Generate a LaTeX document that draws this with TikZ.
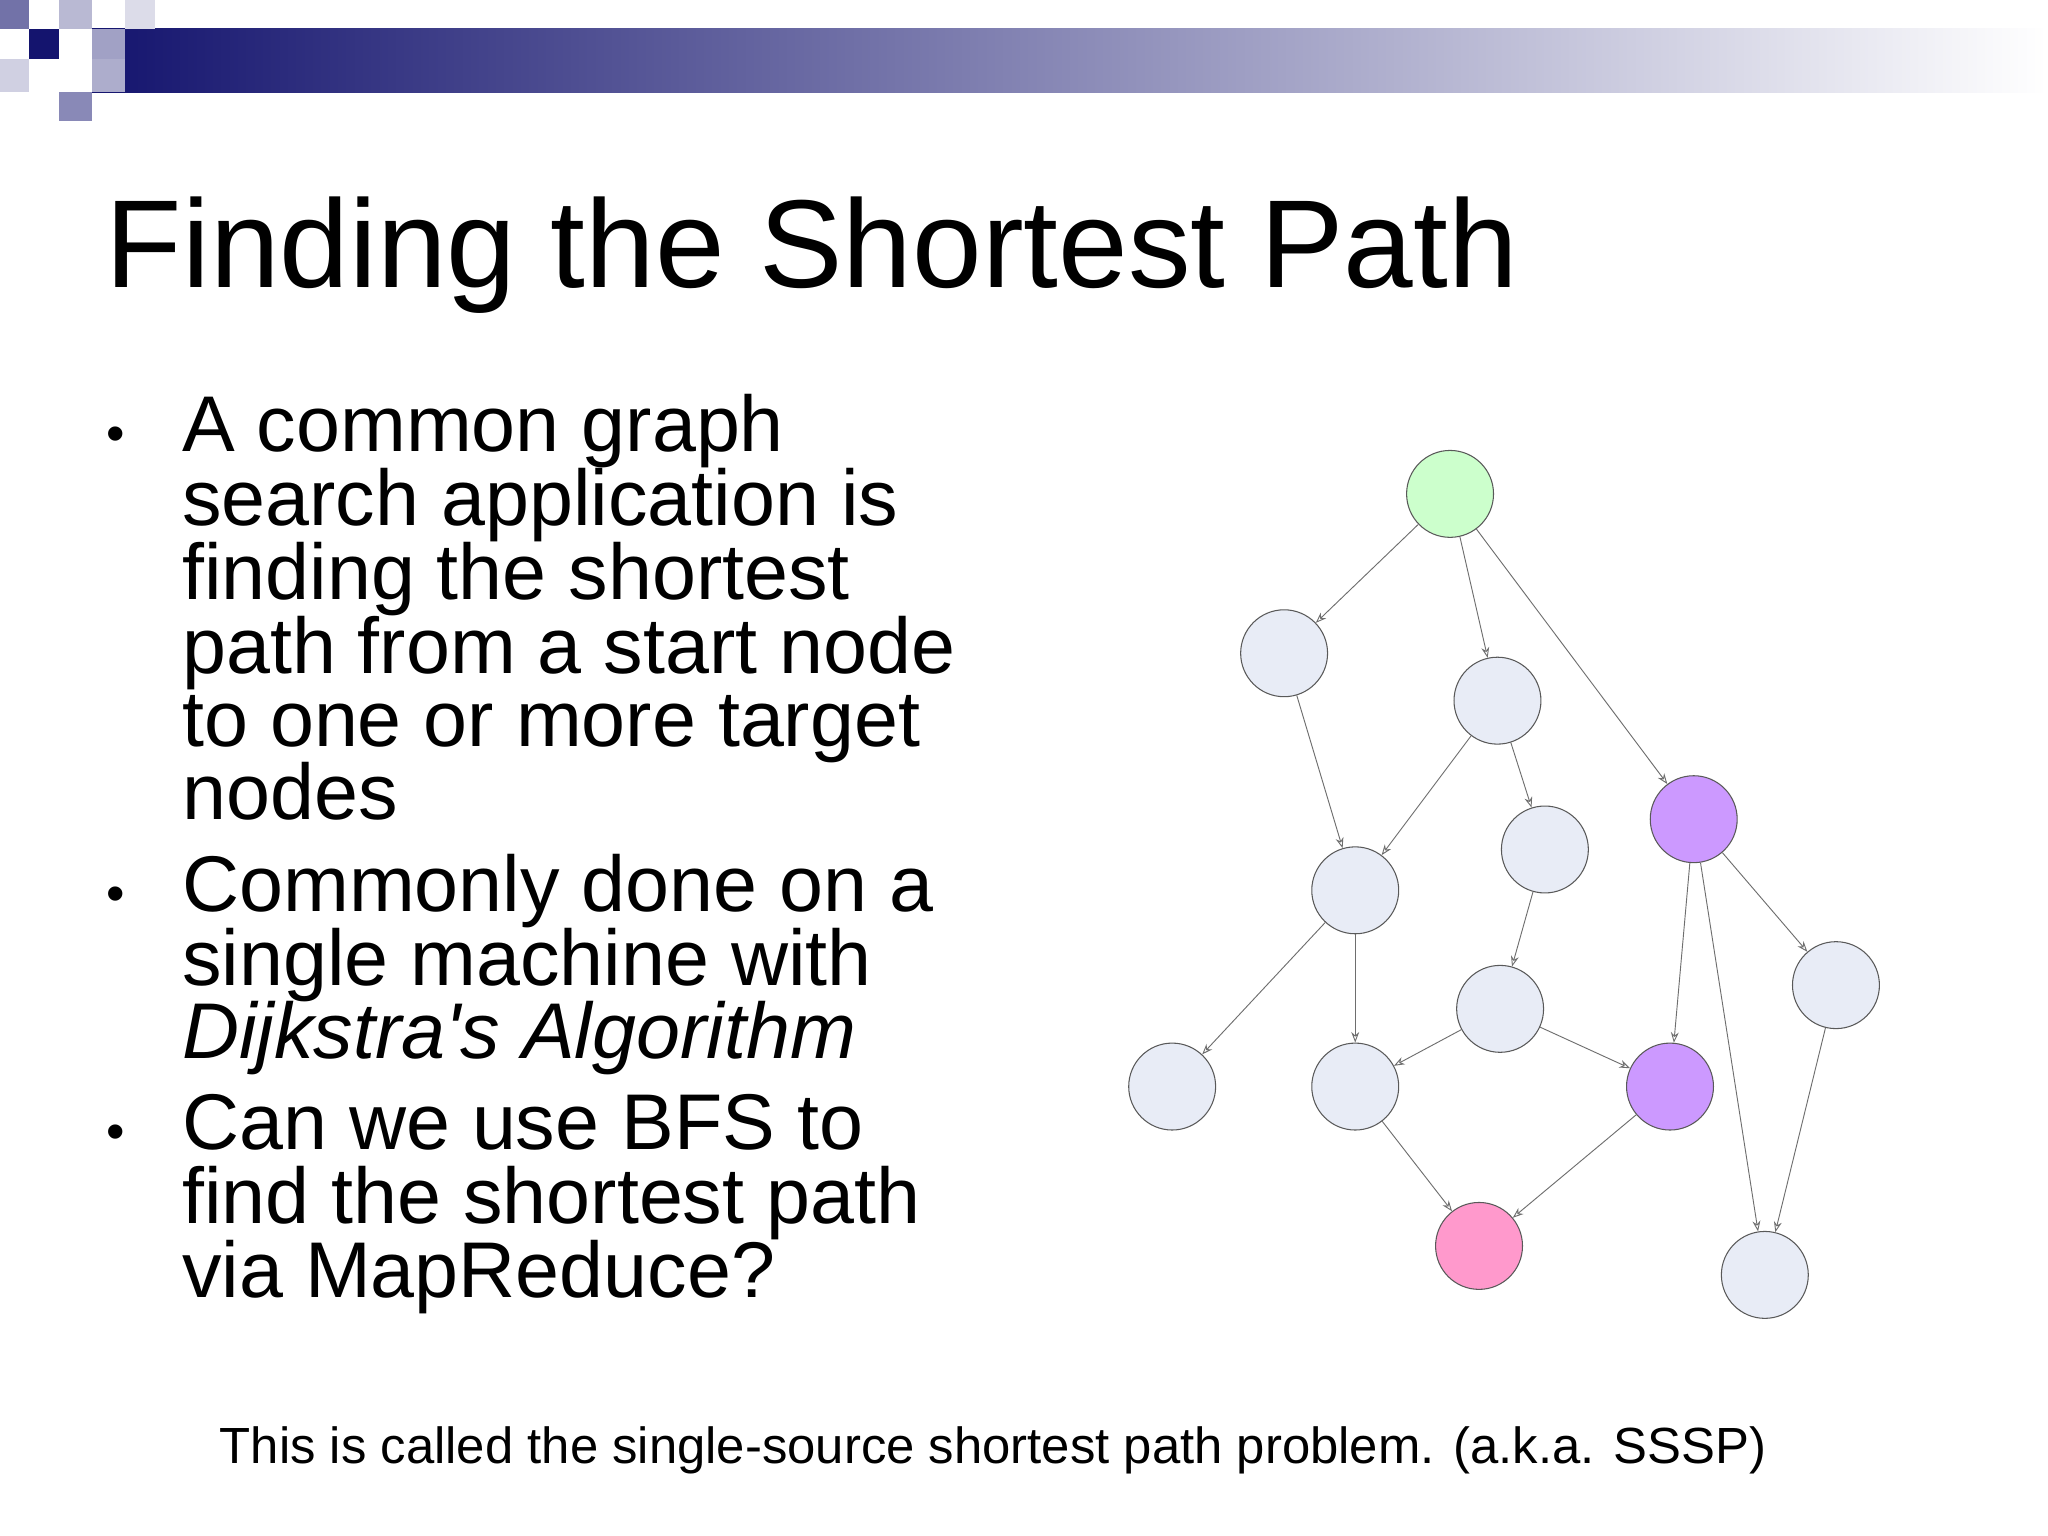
\documentclass[tikz,border=0pt]{standalone}
\usepackage{fontspec}
\setmainfont{Liberation Sans}
\newfontfamily\plainsans[Ligatures=NoCommon]{Liberation Sans}
\usetikzlibrary{arrows.meta}
\definecolor{navy}{RGB}{20,20,110}
\definecolor{gnode}{RGB}{232,236,246}
\definecolor{gedge}{RGB}{110,110,110}
\tikzset{
 gn/.style={circle,draw=gray!70!black,line width=0.4pt,fill=gnode,minimum size=33pt,inner sep=0pt},
 ge/.style={draw=gedge,line width=0.35pt,-{Stealth[length=4pt,width=3pt,open]}},
 bl/.style={anchor=base west,inner sep=0pt,font=\fontsize{30pt}{28pt}\selectfont},
}
\begin{document}
\begin{tikzpicture}[x=0.5pt,y=-0.5pt]
\useasboundingbox[fill=white] (0,0) rectangle (1555,1166);
% header decoration
\shade[left color=navy,right color=white] (70,22) rectangle (1554,70);
\fill[navy!60!white] (0,0) rectangle (22,22);
\fill[navy!30!white] (45,0) rectangle (70,22);
\fill[navy!40!white] (70,22) rectangle (95,45);
\fill[navy!20!white] (0,45) rectangle (22,70);
\fill[navy!50!white] (45,70) rectangle (70,92);
\fill[navy!15!white] (95,0) rectangle (118,22);
\fill[navy] (22,22) rectangle (45,45);
\fill[navy!35!white] (70,45) rectangle (95,70);
% title
\node[anchor=base west,inner sep=0pt,font=\fontsize{47.5pt}{56pt}\selectfont] (title) at (80,218) {Finding the Shortest Path};
% bullets
\foreach \y/\n in {343/b1,692/b2,873/b3}{\node[anchor=base,inner sep=0pt,font=\fontsize{20pt}{20pt}\selectfont] (\n) at (88,\y) {•};}
\node[bl] (l1) at (138,343) {A common graph};
\node[bl] (l2) at (138,399) {search application is};
\node[bl] (l3) at (138,455) {finding the shortest};
\node[bl] (l4) at (138,511) {path from a start node};
\node[bl] (l5) at (138,567) {to one or more target};
\node[bl] (l6) at (138,622) {nodes};
\node[bl] (l7) at (138,692) {Commonly done on a};
\node[bl] (l8) at (138,748) {single machine with};
\node[bl] (l9) at (138,804) {\itshape Dijkstra\textquotesingle s Algorithm};
\node[bl] (l10) at (138,873) {Can we use BFS to};
\node[bl] (l11) at (138,929) {find the shortest path};
\node[bl] (l12) at (138,985) {via MapReduce?};
\node[anchor=base,inner sep=0pt,font=\fontsize{19.3pt}{24pt}\selectfont] (foot) at (754,1111) {This is called the single-source shortest path problem. (a.k.a. SSSP)};
% graph
\node[gn,fill={rgb,255:red,204;green,255;blue,204}] (A) at (1101,375) {};
\node[gn] (B) at (975,496) {};
\node[gn] (C) at (1137,532) {};
\node[gn] (D) at (1173,645) {};
\node[gn,fill={rgb,255:red,204;green,153;blue,255}] (E) at (1286,622) {};
\node[gn] (F) at (1029,676) {};
\node[gn] (G) at (1139,766) {};
\node[gn] (H) at (1394,748) {};
\node[gn] (I) at (890,825) {};
\node[gn] (J) at (1029,825) {};
\node[gn,fill={rgb,255:red,204;green,153;blue,255}] (K) at (1268,825) {};
\node[gn,fill={rgb,255:red,255;green,153;blue,204}] (L) at (1123,946) {};
\node[gn] (M) at (1340,968) {};
\foreach \a/\b in {A/B,A/C,A/E,B/F,C/F,C/D,D/G,E/K,E/H,E/M,F/I,F/J,G/J,G/K,J/L,K/L,H/M}
  \draw[ge] (\a) -- (\b);
\end{tikzpicture}
\end{document}
